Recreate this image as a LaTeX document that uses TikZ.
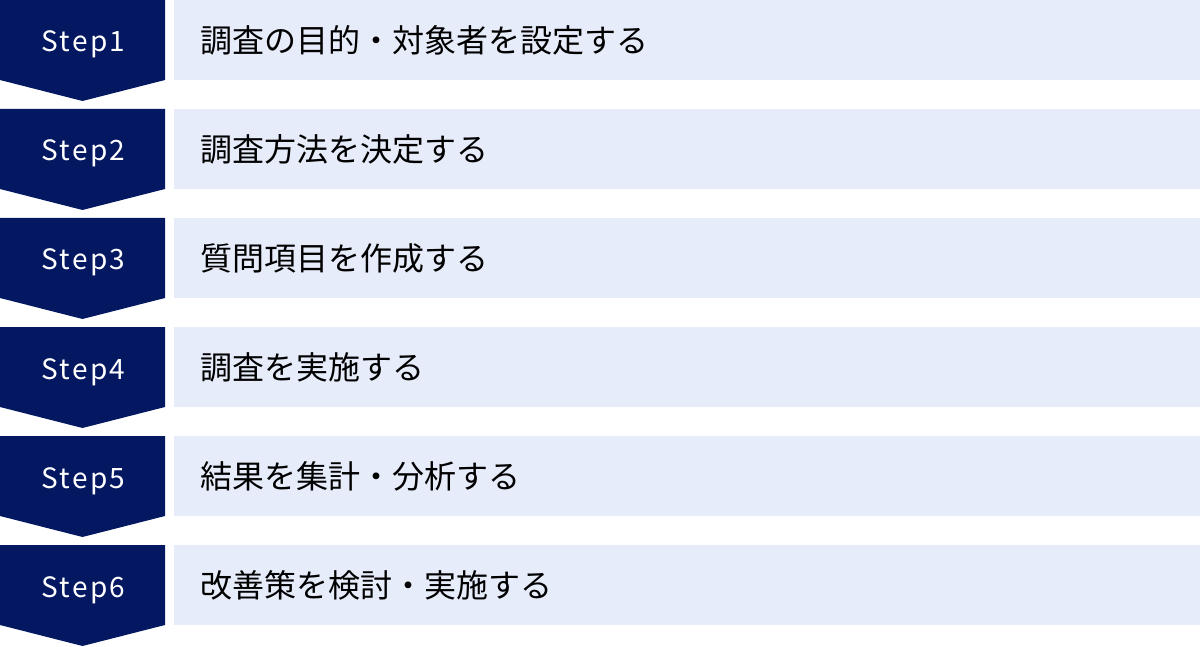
\documentclass[tikz,border=0pt]{standalone}
\usepackage{fontspec}
\setmainfont{Noto Sans CJK JP}
\definecolor{navy}{RGB}{4,24,98}
\definecolor{pale}{RGB}{230,236,250}
\begin{document}
\begin{tikzpicture}[x=1pt,y=-1pt,
  chev/.style={fill=navy,draw=none},
  lbl/.style={text=white,font=\fontsize{28}{32}\selectfont,anchor=base,inner sep=0},
  band/.style={fill=pale,draw=none},
  txt/.style={text=black,font=\fontsize{32}{38}\selectfont,anchor=west,inner sep=0}]
\useasboundingbox (0,0) rectangle (1200,647);
\foreach \i/\t in {1/調査の目的・対象者を設定する,2/調査方法を決定する,3/質問項目を作成する,4/調査を実施する,5/結果を集計・分析する,6/改善策を検討・実施する}{
  \pgfmathsetmacro{\y}{(\i-1)*109}
  \fill[chev] (0,\y) -- (165,\y) -- (165,\y+80) -- (82.5,\y+101) -- (0,\y+80) -- cycle;
  \node[lbl] (s\i) at (83.5,\y+52) {\addfontfeature{LetterSpace=8}Step\i};
  \fill[band] (174,\y) rectangle (1200,\y+80);
  \node[txt] (t\i) at (200,\y+40) {\t};
}
\end{tikzpicture}
\end{document}
